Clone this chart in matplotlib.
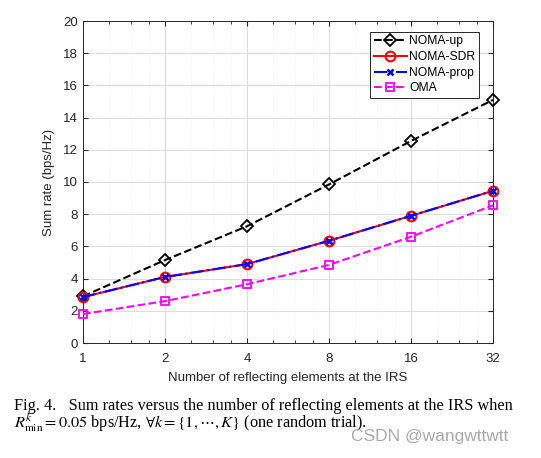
import matplotlib
matplotlib.use('Agg')
import matplotlib.pyplot as plt
from matplotlib.ticker import FixedLocator, NullFormatter

# data
n_elements = [1, 2, 4, 8, 16, 32]
noma_up = [2.9, 5.15, 7.25, 9.85, 12.55, 15.1]
noma_sdr = [2.85, 4.1, 4.9, 6.35, 7.9, 9.45]
noma_prop = [2.85, 4.1, 4.9, 6.35, 7.9, 9.45]
oma = [1.8, 2.6, 3.65, 4.85, 6.6, 8.55]
x_ticks = [1, 2, 4, 8, 16, 32]
y_ticks = list(range(0, 21, 2))

plt.rcParams['font.family'] = ['Liberation Sans', 'DejaVu Sans']
plt.rcParams['mathtext.fontset'] = 'stix'

fig = plt.figure(figsize=(5.41, 4.58), dpi=100)
ax = fig.add_axes([83 / 541, 1 - 343 / 458, 410 / 541, 322 / 458])

ax.plot(n_elements, noma_up, 'k--', marker='D', markersize=6.5, mfc='none', mew=1.3, lw=1.5,
        label='NOMA-up', clip_on=False, zorder=3)
ax.plot(n_elements, noma_sdr, 'r-', marker='o', markersize=7, mfc='none', mew=1.5, lw=1.5,
        label='NOMA-SDR', clip_on=False, zorder=3)
ax.plot(n_elements, noma_prop, 'b-.', marker='x', markersize=5, mew=1.8, lw=1.5,
        label='NOMA-prop', clip_on=False, zorder=4)
ax.plot(n_elements, oma, '--', color='magenta', marker='s', markersize=6, mfc='none', mew=1.3, lw=1.5,
        label='OMA', clip_on=False, zorder=3)

ax.set_xscale('log', base=2)
ax.set_xlim(1, 32)
ax.set_ylim(0, 20)
ax.xaxis.set_major_locator(FixedLocator(x_ticks))
ax.set_xticklabels([str(t) for t in x_ticks])
minor = [k * 2 ** e for e in range(0, 5) for k in (1.25, 1.5, 1.75)]
ax.xaxis.set_minor_locator(FixedLocator(minor))
ax.xaxis.set_minor_formatter(NullFormatter())
ax.set_yticks(y_ticks)

ax.grid(True, which='major', color='#dcdcdc', lw=0.7)
ax.grid(True, which='minor', axis='x', color='#ececec', lw=0.5, ls=':')
ax.set_axisbelow(True)
ax.tick_params(direction='in', which='both', top=True, right=True, labelsize=9.5, colors='#262626')
ax.tick_params(axis='x', pad=7)
ax.tick_params(which='minor', length=2)
for s in ax.spines.values():
    s.set_color('#262626')
    s.set_linewidth(0.7)

ax.set_xlabel('Number of reflecting elements at the IRS', fontsize=9.5, color='#262626', labelpad=5)
ax.set_ylabel('Sum rate (bps/Hz)', fontsize=9.5, color='#262626', labelpad=6)

leg = ax.legend(loc='upper right', bbox_to_anchor=(0.98, 0.985), fontsize=8.7, fancybox=False,
                framealpha=1, edgecolor='#262626', handlelength=2.7, borderpad=0.3,
                labelspacing=0.3, handletextpad=0.2)
leg.get_frame().set_linewidth(0.7)

fig.text(14 / 541, 1 - 406 / 458, 'Fig. 4.   Sum rates versus the number of reflecting elements at the IRS when',
         family='Liberation Serif', fontsize=11.7, va='center')
fig.text(14 / 541, 1 - 423 / 458,
         r'$R_{\min}^{k} = 0.05$ bps/Hz, $\forall k = \{1, \cdots, K\}$ (one random trial).',
         family='Liberation Serif', fontsize=11.7, va='center')
fig.text(508 / 541, 1 - 437 / 458, 'CSDN @wangwttwtt', fontsize=12.5, color='#a0a0a0',
         ha='right', va='center', alpha=0.9)

fig.savefig('out.png', dpi=100)
